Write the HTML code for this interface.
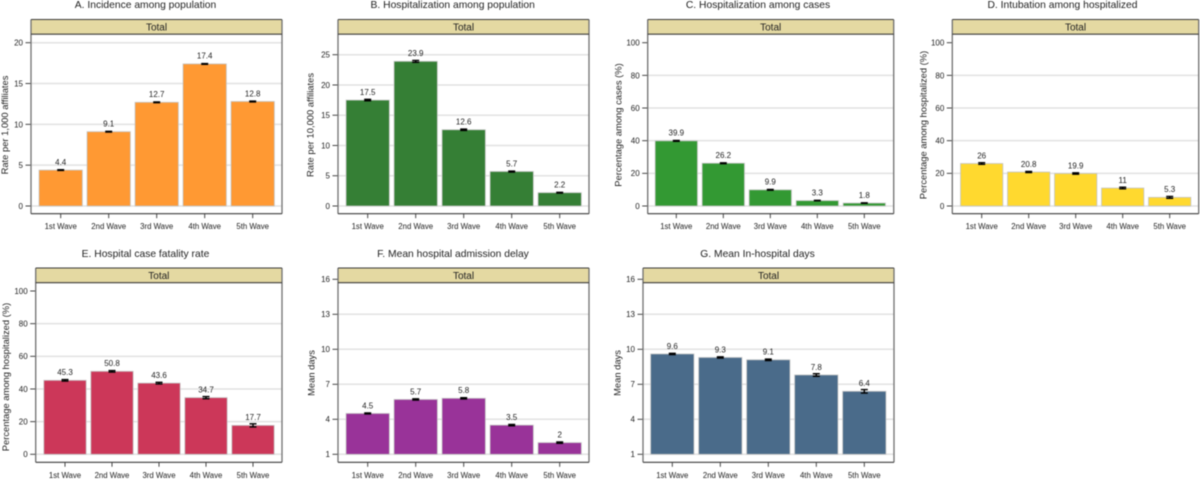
<!DOCTYPE html>
<html lang="en">
<head>
<meta charset="utf-8">
<title>COVID-19 wave outcomes</title>
<style>
html,body{margin:0;padding:0;background:#fff;width:1200px;height:479px;overflow:hidden}
svg{display:block;filter:blur(0.4px)}
text{font-family:"Liberation Sans",Arial,sans-serif;fill:#222}
</style>
</head>
<body>
<svg id="figure" xmlns="http://www.w3.org/2000/svg" width="1200" height="479" viewBox="0 0 1200 479"></svg>
<script>
const waves = ["1st Wave", "2nd Wave", "3rd Wave", "4th Wave", "5th Wave"];

const incidenceValues = [4.4, 9.1, 12.7, 17.4, 12.8];
const incidenceErrors = [0.04, 0.04, 0.05, 0.05, 0.05];
const incidenceTicks = [0, 5, 10, 15, 20];

const hospPopValues = [17.5, 23.9, 12.6, 5.7, 2.2];
const hospPopErrors = [0.12, 0.15, 0.12, 0.08, 0.05];
const hospPopTicks = [0, 5, 10, 15, 20, 25];

const hospCasesValues = [39.9, 26.2, 9.9, 3.3, 1.8];
const hospCasesErrors = [0.25, 0.25, 0.2, 0.15, 0.12];

const intubationValues = [26, 20.8, 19.9, 11, 5.3];
const intubationErrors = [0.5, 0.35, 0.4, 0.5, 0.55];

const fatalityValues = [45.3, 50.8, 43.6, 34.7, 17.7];
const fatalityErrors = [0.45, 0.45, 0.5, 0.65, 0.95];

const percentTicks = [0, 20, 40, 60, 80, 100];

const delayValues = [4.5, 5.7, 5.8, 3.5, 2];
const delayErrors = [0.04, 0.05, 0.05, 0.06, 0.06];

const inHospitalValues = [9.6, 9.3, 9.1, 7.8, 6.4];
const inHospitalErrors = [0.05, 0.05, 0.06, 0.11, 0.15];

const dayTicks = [1, 4, 7, 10, 13, 16];

/* Panel layout (geometry only, no data) */
const rowTop = {y0: 206, yTop: 42.7, stripTop: 19.5, stripBottom: 34.2, bottom: 213.7, titleY: 8, axisTitleY: 125};
const rowBottom = {y0: 454.3, yTop: 291, stripTop: 268, stripBottom: 282.7, bottom: 462.3, titleY: 257, axisTitleY: 377};
const rowBottomDays = {y0: 454.3, yTop: 279.3, stripTop: 268, stripBottom: 282.7, bottom: 462.3, titleY: 257, axisTitleY: 373};

const panels = [
  {key: "incidence", title: "A. Incidence among population", titleX: 145.5, yLabel: "Rate per 1,000 affiliates", values: incidenceValues, errors: incidenceErrors, ticks: incidenceTicks, color: "#ff9933", row: rowTop, left: 31, right: 282, first: 60.7, step: 48, yTitleX: 8, topGrid: true},
  {key: "hosp-population", title: "B. Hospitalization among population", titleX: 452.7, yLabel: "Rate per 10,000 affiliates", values: hospPopValues, errors: hospPopErrors, ticks: hospPopTicks, color: "#357f35", row: Object.assign({}, rowTop, {yTop: 54.7}), left: 338, right: 589, first: 367.7, step: 48, yTitleX: 313.5, topGrid: true},
  {key: "hosp-cases", title: "C. Hospitalization among cases", titleX: 758, yLabel: "Percentage among cases (%)", values: hospCasesValues, errors: hospCasesErrors, ticks: percentTicks, color: "#339933", row: rowTop, left: 647.7, right: 893.7, first: 676.3, step: 47, yTitleX: 621.5, topGrid: false},
  {key: "intubation", title: "D. Intubation among hospitalized", titleX: 1062.5, yLabel: "Percentage among hospitalized (%)", values: intubationValues, errors: intubationErrors, ticks: percentTicks, color: "#ffd92f", row: rowTop, left: 952.3, right: 1198.7, first: 981.7, step: 47, yTitleX: 926.5, topGrid: false},
  {key: "fatality", title: "E. Hospital case fatality rate", titleX: 145.5, yLabel: "Percentage among hospitalized (%)", values: fatalityValues, errors: fatalityErrors, ticks: percentTicks, color: "#cc3759", row: rowBottom, left: 35.7, right: 282, first: 65, step: 47, yTitleX: 9, topGrid: false},
  {key: "admission-delay", title: "F. Mean hospital admission delay", titleX: 453, yLabel: "Mean days", values: delayValues, errors: delayErrors, ticks: dayTicks, color: "#993399", row: rowBottomDays, left: 338, right: 589, first: 367.7, step: 48, yTitleX: 314.5, topGrid: false},
  {key: "in-hospital-days", title: "G. Mean In-hospital days", titleX: 757.5, yLabel: "Mean days", values: inHospitalValues, errors: inHospitalErrors, ticks: dayTicks, color: "#4a6b8a", row: rowBottomDays, left: 643, right: 894, first: 672.3, step: 48, yTitleX: 620.5, topGrid: false}
];

const NS = "http://www.w3.org/2000/svg";
const figure = document.getElementById("figure");

function make(tag, attrs, parent) {
  const node = document.createElementNS(NS, tag);
  for (const k in attrs) node.setAttribute(k, attrs[k]);
  parent.appendChild(node);
  return node;
}

function drawPanel(p) {
  const r = p.row;
  const lo = p.ticks[0];
  const hi = p.ticks[p.ticks.length - 1];
  const yScale = v => r.y0 - (v - lo) / (hi - lo) * (r.y0 - r.yTop);
  const xScale = i => p.first + i * p.step;
  const barWidth = p.step - 4.7;
  const center = (p.left + p.right) / 2;

  const g = make("g", {}, figure);
  
  

  const title = make("text", {x: p.titleX, y: r.titleY, "text-anchor": "middle", "font-size": "10.3"}, g);
  title.textContent = p.title;
  
  

  const bg = make("rect", {x: p.left, y: r.stripBottom, width: p.right - p.left, height: r.bottom - r.stripBottom, fill: "#fff"}, g);
  
  

  p.ticks.forEach(t => {
    const y = yScale(t);
    if (t !== hi || p.topGrid) {
      const grid = make("line", {x1: p.left, x2: p.right, y1: y, y2: y, stroke: "#e2e2e2", "stroke-width": 1.5}, g);
      
      
    }
    const tick = make("line", {x1: p.left - 5.5, x2: p.left, y1: y, y2: y, stroke: "#333", "stroke-width": 0.9}, g);
    
    
    const label = make("text", {x: p.left - 8, y: y + 2.9, "text-anchor": "end", "font-size": "8"}, g);
    label.textContent = t;
    
    
  });

  p.values.forEach((v, i) => {
    const x = xScale(i);
    const top = yScale(v);
    const bar = make("rect", {x: x - barWidth / 2, y: top, width: barWidth, height: r.y0 - top, fill: p.color, stroke: "#c4c4c4", "stroke-width": 0.8}, g);
    
    

    const e = p.errors[i];
    const yHigh = yScale(v + e);
    const yLow = yScale(v - e);
    const err = make("path", {d: "M" + (x - 3.5) + " " + yHigh + "H" + (x + 3.5) + "M" + x + " " + yHigh + "V" + yLow + "M" + (x - 3.5) + " " + yLow + "H" + (x + 3.5), stroke: "#000", "stroke-width": 1.4, fill: "none"}, g);
    
    

    const val = make("text", {x: x, y: top - 5.2, "text-anchor": "middle", "font-size": "8"}, g);
    val.textContent = v;
    
    

    const xt = make("line", {x1: x, x2: x, y1: r.bottom, y2: r.bottom + 4.5, stroke: "#333", "stroke-width": 0.9}, g);
    
    

    const xl = make("text", {x: x, y: r.bottom + 15.5, "text-anchor": "middle", "font-size": "7.8"}, g);
    xl.textContent = waves[i];
    
    
  });

  const strip = make("rect", {x: p.left, y: r.stripTop, width: p.right - p.left, height: r.stripBottom - r.stripTop, fill: "#e4d9a2"}, g);
  
  

  const stripLabel = make("text", {x: center, y: r.stripTop + 10.9, "text-anchor": "middle", "font-size": "10"}, g);
  stripLabel.textContent = "Total";
  
  

  const frameSides = make("path", {d: "M" + p.left + " " + r.stripTop + "V" + r.bottom + "M" + p.right + " " + r.stripTop + "V" + r.bottom, stroke: "#707070", "stroke-width": 1.3, fill: "none"}, g);
  
  

  const frameRules = make("path", {d: "M" + p.left + " " + r.stripTop + "H" + p.right + "M" + p.left + " " + r.stripBottom + "H" + p.right + "M" + p.left + " " + r.bottom + "H" + p.right, stroke: "#3c3c3c", "stroke-width": 1.1, fill: "none"}, g);
  
  

  const yTitle = make("text", {x: 0, y: 0, transform: "translate(" + p.yTitleX + " " + r.axisTitleY + ") rotate(-90)", "text-anchor": "middle", "font-size": "9.4"}, g);
  yTitle.textContent = p.yLabel;
  
  
}

panels.forEach(drawPanel);
</script>
</body>
</html>
